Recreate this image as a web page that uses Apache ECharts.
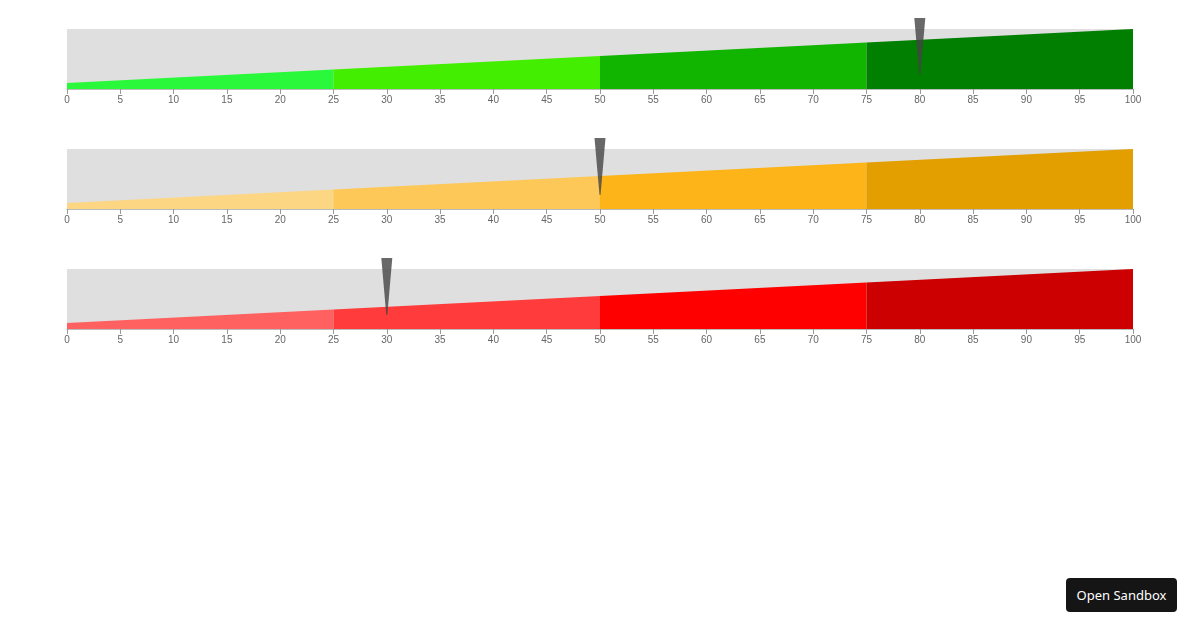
<!DOCTYPE html>
<html><head><meta charset="utf-8">
<script src="https://cdn.jsdelivr.net/npm/echarts@6/dist/echarts.min.js"></script>
<style>html,body{margin:0;background:#fff}#c{width:1200px;height:630px}
#btn{position:absolute;left:1066px;top:578px;width:111px;height:34px;background:#151515;color:#fff;border-radius:4px;font:13px "Noto Sans",sans-serif;display:flex;align-items:center;justify-content:center}</style>
</head><body><div id="c"></div><div id="btn">Open Sandbox</div>
<script>
const values = [80, 50, 30];
const breaks = [0, 25, 50, 75, 100];
const wedgeHeights = [10, 32.5, 55, 77.5, 100];
const palettes = [
  ['#2af83a', '#44ee00', '#11b500', '#007f00'],
  ['#fdd684', '#fdc858', '#fcb418', '#e39e00'],
  ['#ff6060', '#ff3b3b', '#ff0000', '#cc0000']
];
const gridTops = [29, 149, 269];

const grid = [], xAxis = [], yAxis = [], series = [];
gridTops.forEach((t, i) => {
  grid.push({left: 67, right: 67, top: t, height: 60});
  xAxis.push({gridIndex: i, type: 'value', min: 0, max: 100, interval: 5,
    axisLine: {show: true, lineStyle: {color: '#bbb'}},
    axisTick: {show: true, length: 5, lineStyle: {color: '#999'}},
    axisLabel: {color: '#666', fontSize: 10, margin: 6, fontFamily: 'Liberation Sans'},
    splitLine: {show: false}});
  yAxis.push({gridIndex: i, type: 'value', min: 0, max: 100, show: false});
  series.push({type: 'line', xAxisIndex: i, yAxisIndex: i, data: [[0, 100], [100, 100]],
    symbol: 'none', lineStyle: {width: 0}, areaStyle: {color: '#dfdfdf', opacity: 1}, silent: true});
  for (let s = 0; s < 4; s++) {
    series.push({type: 'line', xAxisIndex: i, yAxisIndex: i,
      data: [[breaks[s], wedgeHeights[s]], [breaks[s + 1], wedgeHeights[s + 1]]],
      symbol: 'none', lineStyle: {width: 0}, areaStyle: {color: palettes[i][s], opacity: 1}, silent: true});
  }
  series.push({type: 'scatter', xAxisIndex: i, yAxisIndex: i, data: [[values[i], 100]],
    symbol: 'path://M0,0 L11,0 L6,57 L5,57 Z', symbolSize: [11, 57], symbolOffset: [0, 17.5],
    itemStyle: {color: '#444'}, z: 10, silent: true});
});
const chart = echarts.init(document.getElementById('c'));
chart.setOption({animation: false, grid, xAxis, yAxis, series});
</script></body></html>
